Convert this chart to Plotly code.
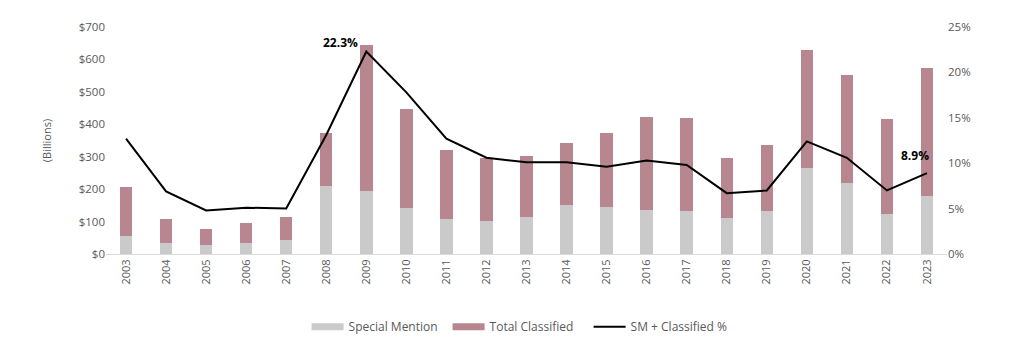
import plotly.graph_objects as go

years = [str(y) for y in range(2003, 2024)]
special_mention = [55, 33, 27, 34, 43, 211, 195, 143, 107, 101, 115, 150, 145, 137, 133, 112, 132, 265, 219, 122, 178]
total_with_sm = [207, 107, 78, 96, 114, 373, 643, 447, 321, 296, 302, 341, 373, 422, 418, 295, 336, 630, 551, 415, 573]
total_classified = [t - s for t, s in zip(total_with_sm, special_mention)]
sm_classified_pct = [12.7, 6.9, 4.8, 5.1, 5.0, 13.1, 22.3, 17.8, 12.7, 10.6, 10.1, 10.1, 9.6, 10.3, 9.8, 6.7, 7.0, 12.4, 10.6, 7.0, 8.9]

GRAY = "#CACACA"
MAUVE = "#B7868F"
TXT = "#595959"
FONT = "Open Sans"

fig = go.Figure()
fig.add_trace(go.Bar(x=years, y=special_mention, name="Special Mention", showlegend=False,
                     legendgroup="sm", marker=dict(color=GRAY, line=dict(width=0))))
fig.add_trace(go.Bar(x=years, y=total_classified, name="Total Classified", showlegend=False,
                     legendgroup="tc", marker=dict(color=MAUVE, line=dict(width=0))))
fig.add_trace(go.Scatter(x=years, y=sm_classified_pct, name="SM + Classified %", showlegend=False,
                         legendgroup="pct", mode="lines", line=dict(color="black", width=2), yaxis="y2"))

# legend entries (wide swatches like the original)
fig.add_trace(go.Scatter(x=[None], y=[None], name="Special Mention", legendgroup="sm",
                         mode="lines", line=dict(color=GRAY, width=7)))
fig.add_trace(go.Scatter(x=[None], y=[None], name="Total Classified", legendgroup="tc",
                         mode="lines", line=dict(color=MAUVE, width=7)))
fig.add_trace(go.Scatter(x=[None], y=[None], name="SM + Classified %", legendgroup="pct",
                         mode="lines", line=dict(color="black", width=2)))

i09 = years.index("2009")
i23 = years.index("2023")
fig.add_annotation(x=i09, y=sm_classified_pct[i09], yref="y2", text="<b>22.3%</b>", showarrow=False,
                   xanchor="right", yanchor="bottom", xshift=-6, yshift=-1,
                   font=dict(family=FONT, size=12, color="black"))
fig.add_annotation(x=i23, y=sm_classified_pct[i23], yref="y2", text="<b>8.9%</b>", showarrow=False,
                   xanchor="center", yanchor="bottom", xshift=-12, yshift=7,
                   font=dict(family=FONT, size=12, color="black"))

fig.update_layout(
    width=1024, height=361,
    barmode="stack", bargap=0.69,
    plot_bgcolor="white", paper_bgcolor="white",
    margin=dict(l=98, r=85, t=19, b=115),
    font=dict(family=FONT, size=11, color=TXT),
    showlegend=True,
    legend=dict(orientation="h", x=0.49, xanchor="center", y=-0.32, yanchor="middle",
                font=dict(family=FONT, size=12, color=TXT), traceorder="normal",
                itemwidth=32, entrywidth=94),
    xaxis=dict(type="category", range=[-0.5, len(years) - 0.5], tickangle=-90, showgrid=False,
               showline=True, linecolor="#D9D9D9", linewidth=1, ticks="",
               tickfont=dict(size=11, color=TXT)),
    yaxis=dict(range=[0, 700], dtick=100, tickprefix="$", showgrid=False, zeroline=False,
               ticks="", tickfont=dict(size=11.5, color=TXT),
               title=dict(text="(Billions)", font=dict(size=11, color=TXT), standoff=24)),
    yaxis2=dict(range=[0, 25], dtick=5, ticksuffix="%", overlaying="y", side="right",
                showgrid=False, zeroline=False, ticks="", tickfont=dict(size=11.5, color=TXT)),
)

fig.write_html("out.html")
